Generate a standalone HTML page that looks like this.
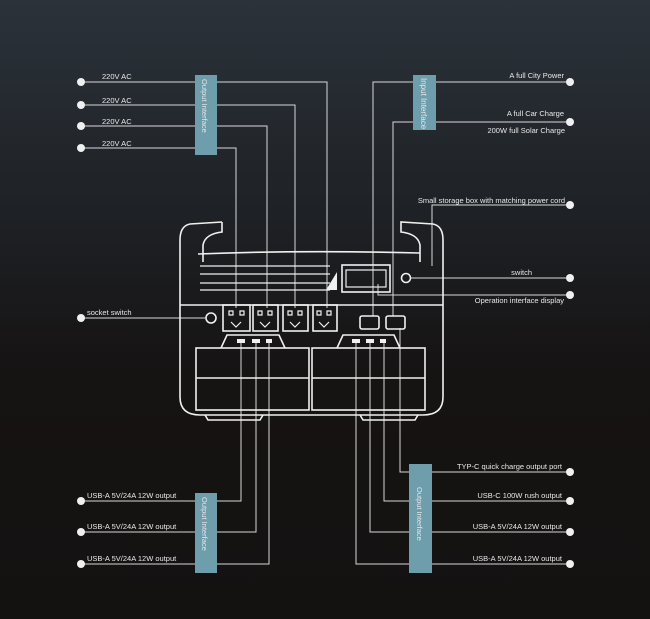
<!DOCTYPE html>
<html><head><style>
html,body{margin:0;padding:0}
body{width:650px;height:619px;overflow:hidden;background:linear-gradient(#2b323a 0%,#1e2125 35%,#161313 60%,#141111 100%);}
svg{display:block}
text{font-family:"Liberation Sans",sans-serif;fill:#e8e8e8;font-size:7.5px}
</style></head><body>
<svg width="650" height="619" viewBox="0 0 650 619">
<g stroke="#d8d8d8" stroke-width="1" fill="none">
<polyline points="81,82 327,82 327,308"/>
<polyline points="81,105 295,105 295,308"/>
<polyline points="81,126 267,126 267,308"/>
<polyline points="81,148 236,148 236,308"/>
<line x1="81" y1="318" x2="205" y2="318"/>
<polyline points="570,82 373,82 373,316"/>
<polyline points="570,122 393,122 393,316"/>
<polyline points="570,205 432,205 432,266"/>
<line x1="411" y1="278" x2="570" y2="278"/>
<polyline points="378,284 378,295 570,295"/>
<polyline points="81,501 241,501 241,340"/>
<polyline points="81,532 256,532 256,340"/>
<polyline points="81,564 269,564 269,340"/>
<polyline points="570,472 400,472 400,328"/>
<polyline points="570,501 384,501 384,340"/>
<polyline points="570,532 370,532 370,340"/>
<polyline points="570,564 356,564 356,340"/>
</g>
<g stroke="#f0f0f0" stroke-width="1.6" fill="none">
<path d="M222,222 L190,224 Q180,226 180,240 L180,397 Q180,415 200,415 L423,415 Q443,415 443,397 L443,240 Q443,226 433,224 L401,222 L401,232 Q418,234 420,245 L420,262"/>
<path d="M222,222 L222,232 Q205,234 203,245 L203,262"/>
<path d="M198,254 Q300,250 420,253"/>
<line x1="180" y1="305" x2="443" y2="305"/>
<rect x="196" y="348" width="113" height="62"/>
<rect x="312" y="348" width="113" height="62"/>
<line x1="196" y1="378" x2="309" y2="378"/>
<line x1="312" y1="378" x2="425" y2="378"/>
<path d="M221,348 L227,335 L279,335 L285,348"/>
<path d="M337,348 L343,335 L394,335 L400,348"/>
<rect x="223" y="305" width="27" height="26"/>
<rect x="253" y="305" width="25" height="26"/>
<rect x="283" y="305" width="25" height="26"/>
<rect x="313" y="305" width="24" height="26"/>
<rect x="342" y="265" width="48" height="27"/>
<rect x="346" y="270" width="40" height="17" stroke-width="1.2"/>
<circle cx="406" cy="278" r="4.5"/>
<circle cx="211" cy="318" r="5"/>
<rect x="360" y="316" width="19" height="13" rx="2"/>
<rect x="386" y="316" width="19" height="13" rx="2"/>
<path d="M200,266 L330,266 M200,274 L330,274 M200,283 L330,283 M200,290 L330,290" stroke-width="1.2"/>
<path d="M205,415 L208,420 L260,420 L263,415 M360,415 L363,420 L415,420 L418,415"/>
</g>
<g stroke="#f0f0f0" stroke-width="1.2" fill="none">
<path d="M229,311 l4,0 l0,4 l-4,0z M240,311 l4,0 l0,4 l-4,0z M231,322 l5,5 l5,-5"/>
<path d="M258,311 l4,0 l0,4 l-4,0z M268,311 l4,0 l0,4 l-4,0z M260,322 l5,5 l5,-5"/>
<path d="M288,311 l4,0 l0,4 l-4,0z M298,311 l4,0 l0,4 l-4,0z M290,322 l5,5 l5,-5"/>
<path d="M317,311 l4,0 l0,4 l-4,0z M327,311 l4,0 l0,4 l-4,0z M319,322 l5,5 l5,-5"/>
</g>
<path d="M326,290 L337,272 L337,290Z" fill="#f0f0f0"/>
<g fill="#f0f0f0">
<rect x="237" y="339" width="8" height="4"/><rect x="252" y="339" width="8" height="4"/><rect x="266" y="339" width="6" height="4"/>
<rect x="352" y="339" width="8" height="4"/><rect x="366" y="339" width="8" height="4"/><rect x="380" y="339" width="6" height="4"/>
<circle cx="81" cy="82" r="4"/><circle cx="81" cy="105" r="4"/><circle cx="81" cy="126" r="4"/><circle cx="81" cy="148" r="4"/>
<circle cx="81" cy="318" r="4"/>
<circle cx="81" cy="501" r="4"/><circle cx="81" cy="532" r="4"/><circle cx="81" cy="564" r="4"/>
<circle cx="570" cy="82" r="4"/><circle cx="570" cy="122" r="4"/><circle cx="570" cy="205" r="4"/><circle cx="570" cy="278" r="4"/><circle cx="570" cy="295" r="4"/>
<circle cx="570" cy="472" r="4"/><circle cx="570" cy="501" r="4"/><circle cx="570" cy="532" r="4"/><circle cx="570" cy="564" r="4"/>
</g>
<g fill="#6e9dac">
<rect x="195" y="75" width="22" height="80"/>
<rect x="413" y="75" width="23" height="55"/>
<rect x="195" y="493" width="22" height="80"/>
<rect x="409" y="464" width="23" height="109"/>
</g>
<g style="font-size:9.5px;fill:#f4f4f4">
<text transform="translate(202,79) rotate(90)">Output Interface</text>
<text transform="translate(421,78) rotate(90)" style="font-size:8px">Input Interface</text>
<text transform="translate(202,497) rotate(90)">Output Interface</text>
<text transform="translate(417,487) rotate(90)">Output Interface</text>
</g>
<text x="102" y="79">220V AC</text>
<text x="102" y="103">220V AC</text>
<text x="102" y="124">220V AC</text>
<text x="102" y="146">220V AC</text>
<text x="87" y="315">socket switch</text>
<text x="87" y="498">USB-A 5V/24A 12W output</text>
<text x="87" y="529">USB-A 5V/24A 12W output</text>
<text x="87" y="561">USB-A 5V/24A 12W output</text>
<g text-anchor="end">
<text x="564" y="78">A full City Power</text>
<text x="564" y="116">A full Car Charge</text>
<text x="565" y="133">200W full Solar Charge</text>
<text x="565" y="203">Small storage box with matching power cord</text>
<text x="532" y="275">switch</text>
<text x="564" y="303">Operation interface display</text>
<text x="562" y="469">TYP-C quick charge output port</text>
<text x="562" y="498">USB-C 100W rush output</text>
<text x="562" y="529">USB-A 5V/24A 12W output</text>
<text x="562" y="561">USB-A 5V/24A 12W output</text>
</g>
</svg>
</body></html>
